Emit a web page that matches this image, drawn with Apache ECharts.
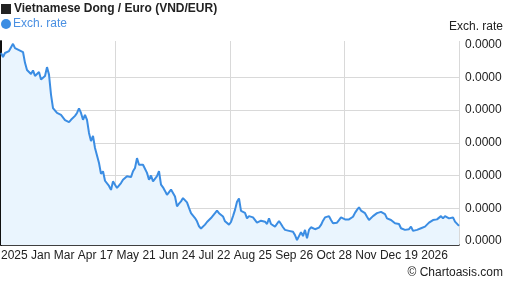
<!DOCTYPE html>
<html><head><meta charset="utf-8">
<script src="https://cdn.jsdelivr.net/npm/echarts@6/dist/echarts.min.js"></script>
<style>html,body{margin:0;padding:0;background:#fff}#c{width:507px;height:288px}</style>
</head><body><div id="c"></div>
<script>
const chartTitle = 'Vietnamese Dong / Euro (VND/EUR)';
const seriesName = 'Exch. rate';
const axisTitle = 'Exch. rate';
const credit = '\u00A9 Chartoasis.com';
const xTickLabels = ['2025','Jan','Mar','Apr 17','May 21','Jun 24','Jul 22','Aug 25','Sep 26','Oct 28','Nov','Dec 19','2026'];
// y tick values in micro-EUR per VND (displayed as EUR with 4 decimals)
const yTickMin = 32, yTickMax = 38, yTickStep = 1;
// VND/EUR rate, micro-EUR per VND, Jan 2025 .. Jan 2026
const rateMicroEUR = [
37.74,37.62,37.74,37.79,37.80,37.84,38.02,37.89,37.83,37.83,37.80,37.77,37.44,37.22,37.16,37.10,37.21,37.04,37.07,37.16,
36.93,36.98,37.04,37.31,37.08,36.47,36.06,36.01,35.91,35.85,35.85,35.82,35.69,35.66,35.63,35.70,35.76,35.82,35.91,36.05,
35.91,35.70,35.85,35.70,35.30,35.05,35.21,34.84,34.90,34.38,34.05,34.13,33.84,33.87,33.68,33.56,33.82,33.72,33.62,33.64,
33.77,33.87,33.90,33.98,33.92,33.95,34.13,34.23,34.53,34.33,34.31,34.33,34.28,34.08,33.87,34.00,33.82,33.80,33.98,34.13,
33.72,33.64,33.53,33.41,33.47,33.57,33.54,33.36,33.06,33.14,33.21,33.31,33.26,33.18,33.01,32.85,32.80,32.70,32.60,32.45,
32.38,32.42,32.50,32.58,32.60,32.70,32.75,32.85,32.93,32.85,32.91,32.75,32.60,32.55,32.50,32.58,32.76,32.95,33.20,33.30,
32.92,32.89,32.86,32.69,32.76,32.72,32.72,32.66,32.56,32.62,32.62,32.59,32.59,32.52,32.69,32.52,32.46,32.44,32.44,32.61,
32.52,32.42,32.34,32.34,32.31,32.34,32.28,32.18,32.03,32.15,32.27,32.15,32.34,32.08,32.34,32.42,32.36,32.36,32.34,32.41,
32.49,32.62,32.72,32.69,32.76,32.64,32.54,32.54,32.56,32.64,32.72,32.72,32.66,32.64,32.66,32.72,32.74,32.86,32.95,33.03,
32.93,32.93,32.85,32.74,32.64,32.69,32.76,32.82,32.85,32.85,32.89,32.93,32.82,32.69,32.66,32.64,32.59,32.54,32.59,32.52,
32.39,32.38,32.34,32.39,32.36,32.44,32.31,32.28,32.34,32.34,32.39,32.42,32.44,32.49,32.56,32.62,32.64,32.66,32.66,32.69,
32.76,32.69,32.76,32.79,32.69,32.74,32.72,32.59,32.56,32.46
];

const FONT = "'Liberation Sans', Arial, sans-serif";
const lineColor = '#3b8de3';
const n = rateMicroEUR.length;
const chart = echarts.init(document.getElementById('c'), null, {renderer: 'canvas'});
// data axis extends slightly beyond the labelled tick range (as in the original)
const pxPerTick = 32.75;
const dataMin = yTickMin - 4 / pxPerTick;
const dataMax = yTickMax + 3.5 / pxPerTick;

chart.setOption({
  animation: false,
  backgroundColor: '#fff',
  textStyle: {fontFamily: FONT},
  grid: [
    {left: 1, right: 48, top: 41, bottom: 43},
    {left: 1, right: 48, top: 44.5, bottom: 47}
  ],
  xAxis: [
    {gridIndex: 0, type: 'value', min: 0, max: n - 1, interval: (n - 1) / 4,
     axisLine: {show: true, onZero: false, lineStyle: {color: '#000', width: 1.5}},
     axisTick: {show: false}, axisLabel: {show: false},
     splitLine: {show: true, lineStyle: {color: '#d9d9d9', width: 1}}},
    {gridIndex: 1, type: 'value', min: 0, max: n - 1, show: false}
  ],
  yAxis: [
    {gridIndex: 0, type: 'value', position: 'right', min: dataMin, max: dataMax,
     axisLine: {show: true, lineStyle: {color: '#000', width: 1.5}},
     axisTick: {show: false}, axisLabel: {show: false}, splitLine: {show: false}},
    {gridIndex: 0, type: 'value', position: 'left', min: dataMin, max: dataMax,
     axisLine: {show: true, lineStyle: {color: '#000', width: 1.5}},
     axisTick: {show: false}, axisLabel: {show: false}, splitLine: {show: false}},
    {gridIndex: 1, type: 'value', position: 'right', min: yTickMin, max: yTickMax, interval: yTickStep,
     axisLine: {show: false}, axisTick: {show: false},
     axisLabel: {show: true, margin: 6, color: '#222', fontSize: 12, fontFamily: FONT,
                 formatter: v => (v * 1e-6).toFixed(4)},
     splitLine: {show: true, showMinLine: false, showMaxLine: false, lineStyle: {color: '#d9d9d9', width: 1}}}
  ],
  series: [{
    name: seriesName, type: 'line', xAxisIndex: 0, yAxisIndex: 0,
    data: rateMicroEUR.map((v, i) => [i, v]),
    showSymbol: false, symbol: 'none',
    lineStyle: {color: lineColor, width: 2},
    areaStyle: {color: '#eaf5fe', opacity: 1, origin: 'start'},
    z: 3
  }],
  graphic: [
    {type: 'rect', left: 1, top: 4, shape: {width: 10, height: 10}, style: {fill: '#222'}},
    {type: 'text', left: 14, top: 3, style: {text: chartTitle, font: 'bold 12px ' + FONT, fill: '#222'}},
    {type: 'circle', left: 1, top: 19, shape: {r: 5}, style: {fill: lineColor}},
    {type: 'text', left: 13, top: 18, style: {text: seriesName, font: '12px ' + FONT, fill: '#4a90e2'}},
    {type: 'text', right: 4, top: 21, style: {text: axisTitle, font: '12px ' + FONT, fill: '#222'}},
    {type: 'text', left: 1, top: 250, style: {text: xTickLabels.join(' '), font: '12px ' + FONT, fill: '#222'}},
    {type: 'text', right: 4, top: 267, style: {text: credit, font: '12px ' + FONT, fill: '#222'}}
  ]
});
</script></body></html>
